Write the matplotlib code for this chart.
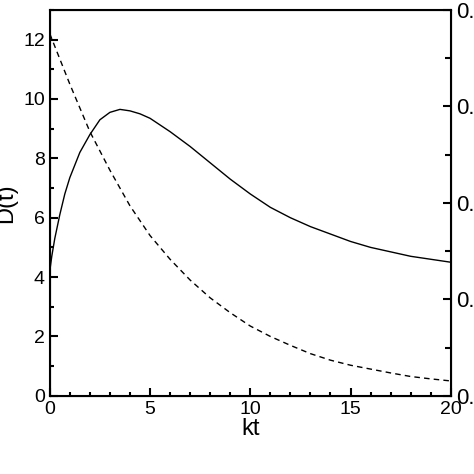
import matplotlib
matplotlib.use("Agg")
import matplotlib.pyplot as plt
from matplotlib.ticker import MultipleLocator

plt.rcParams['font.family'] = ['Liberation Sans', 'DejaVu Sans']

kt_solid = [0, 0.1, 0.25, 0.5, 0.75, 1, 1.5, 2, 2.5, 3, 3.5, 4, 4.5, 5, 6, 7, 8, 9, 10, 11, 12, 13, 14, 15, 16, 17, 18, 19, 20]
d_solid = [4.2, 4.7, 5.3, 6.1, 6.8, 7.35, 8.2, 8.8, 9.3, 9.55, 9.65, 9.6, 9.5, 9.35, 8.9, 8.4, 7.85, 7.3, 6.8, 6.35, 6.0, 5.7, 5.45, 5.2, 5.0, 4.85, 4.7, 4.6, 4.5]
kt_dash = [0, 1, 2, 3, 4, 5, 6, 7, 8, 9, 10, 11, 12, 13, 14, 15, 16, 17, 18, 19, 20]
d_dash = [12.2, 10.5, 8.9, 7.6, 6.4, 5.4, 4.6, 3.9, 3.3, 2.8, 2.35, 2.0, 1.7, 1.42, 1.2, 1.03, 0.9, 0.77, 0.65, 0.57, 0.5]
right_ticks = [0.0, 0.1, 0.2, 0.3, 0.4]

fig = plt.figure(figsize=(4.74, 4.74), dpi=100)
ax = fig.add_axes([0.105, 0.165, 0.846, 0.814])
ax.plot(kt_solid, d_solid, color="black", lw=1)
ax.plot(kt_dash, d_dash, color="black", lw=1, ls=(0, (4, 3)))
ax.set_xlim(0, 20)
ax.set_ylim(0, 13)
ax.xaxis.set_major_locator(MultipleLocator(5))
ax.xaxis.set_minor_locator(MultipleLocator(1))
ax.yaxis.set_major_locator(MultipleLocator(2))
ax.yaxis.set_minor_locator(MultipleLocator(1))
ax.tick_params(which="both", direction="in", labelsize=14, width=1.5)
ax.tick_params(which="major", length=6)
ax.tick_params(which="minor", length=3)
for s in ax.spines.values():
    s.set_linewidth(1.5)
ax.set_xlabel("kt", fontsize=17, labelpad=0)
ax.set_ylabel("D(t)", fontsize=17, labelpad=4)

ax2 = ax.twinx()
ax2.set_ylim(0, 0.4)
ax2.set_yticks(right_ticks)
ax2.set_yticklabels([f"{v:.1f}" for v in right_ticks])
ax2.yaxis.set_minor_locator(MultipleLocator(0.05))
ax2.tick_params(which="both", direction="in", labelsize=16, width=1.5)
ax2.tick_params(which="major", length=6)
ax2.tick_params(which="minor", length=4)

fig.savefig("out.png", dpi=100)
